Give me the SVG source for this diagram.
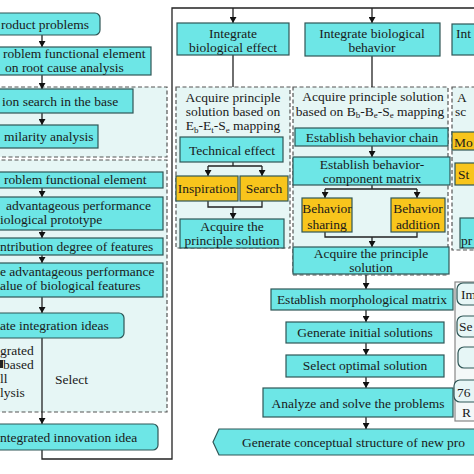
<svg xmlns="http://www.w3.org/2000/svg" width="474" height="474" viewBox="0 0 474 474">
<defs>
<style>
.box{fill:#6DE6E6;stroke:#2F5656;stroke-width:1.2}
.yel{fill:#F8C51C;stroke:#2F5656;stroke-width:1.2}
.dash{fill:#E6F6F5;stroke:#555;stroke-width:1.2;stroke-dasharray:4 2.5}
.pan{fill:#F4F8F8;stroke:#888;stroke-width:1.2}
.rb{fill:#E6F6F6;stroke:#2F5656;stroke-width:1.2}
.t{font-family:"Liberation Serif","Times New Roman",serif;font-size:13.5px;fill:#1a1a1a}
.c{text-anchor:middle}
.ln{stroke:#222;stroke-width:1.3;fill:none}
.s{font-size:9px}
</style>
<marker id="ah" markerWidth="6" markerHeight="7" refX="6" refY="3.5" orient="auto" markerUnits="userSpaceOnUse">
<path d="M0,0 L6,3.5 L0,7 z" fill="#111"/>
</marker>
</defs>
<rect width="474" height="474" fill="#fff"/>

<g id="regions">
<rect class="dash" x="-5" y="87" width="172" height="70"/>
<rect class="dash" x="-5" y="160" width="172" height="252"/>
<rect class="dash" x="176" y="87" width="114" height="161"/>
<rect class="dash" x="293" y="87" width="155" height="188"/>
<rect class="dash" x="452" y="87" width="30" height="163"/>
<rect class="pan" x="455" y="282" width="30" height="139"/>
</g>

<g id="connectors">
<path class="ln" d="M42,35 V47" marker-end="url(#ah)"/>
<path class="ln" d="M42,75 V89" marker-end="url(#ah)"/>
<path class="ln" d="M42,113 V125" marker-end="url(#ah)"/>
<path class="ln" d="M42,188 V197" marker-end="url(#ah)"/>
<path class="ln" d="M42,230 V238" marker-end="url(#ah)"/>
<path class="ln" d="M42,255 V263" marker-end="url(#ah)"/>
<path class="ln" d="M42,297 V313" marker-end="url(#ah)"/>
<path class="ln" d="M42,338 V424" marker-end="url(#ah)"/>
<path class="ln" d="M42,450 V459 H172 V8 H480"/>
<path class="ln" d="M233,8 V23" marker-end="url(#ah)"/>
<path class="ln" d="M372,8 V23" marker-end="url(#ah)"/>
<path class="ln" d="M233,55 V87"/>
<path class="ln" d="M372,56 V87"/>
<path class="ln" d="M233,162 V166 M208,166 H262"/>
<path class="ln" d="M208,166 V176" marker-end="url(#ah)"/>
<path class="ln" d="M262,166 V176" marker-end="url(#ah)"/>
<path class="ln" d="M208,201 V207 H262 V201"/>
<path class="ln" d="M233,207 V219" marker-end="url(#ah)"/>
<path class="ln" d="M372,146 V157" marker-end="url(#ah)"/>
<path class="ln" d="M372,185 V189 M325,189 H417"/>
<path class="ln" d="M325,189 V198" marker-end="url(#ah)"/>
<path class="ln" d="M417,189 V198" marker-end="url(#ah)"/>
<path class="ln" d="M325,232 V237 H417 V232"/>
<path class="ln" d="M372,237 V247" marker-end="url(#ah)"/>
<path class="ln" d="M366,275 V289" marker-end="url(#ah)"/>
<path class="ln" d="M366,310 V322" marker-end="url(#ah)"/>
<path class="ln" d="M366,343 V355" marker-end="url(#ah)"/>
<path class="ln" d="M366,377 V388" marker-end="url(#ah)"/>
<path class="ln" d="M366,417 V429" marker-end="url(#ah)"/>
</g>

<g id="n-product"><rect class="box" x="-10" y="13" width="110" height="22" rx="5"/><text class="t" x="1" y="29">roduct problems</text></g>
<g id="n-element"><rect class="box" x="-10" y="47" width="161" height="28"/><text class="t" x="3" y="58">roblem functional element</text><text class="t" x="5" y="72">on root cause analysis</text></g>
<g id="n-search"><rect class="box" x="-10" y="89" width="143" height="24"/><text class="t" x="2" y="106">ion search in the base</text></g>
<g id="n-similarity"><rect class="box" x="-10" y="125" width="108" height="23"/><text class="t" x="4" y="141">milarity analysis</text></g>
<g id="n-element2"><rect class="box" x="-10" y="172" width="173" height="16"/><text class="t" x="4" y="184">roblem functional element</text></g>
<g id="n-perf"><rect class="box" x="-10" y="197" width="173" height="33"/><text class="t" x="6" y="210">advantageous performance</text><text class="t" x="0" y="224">iological prototype</text></g>
<g id="n-contrib"><rect class="box" x="-10" y="238" width="173" height="17"/><text class="t" x="0" y="251">ntribution degree of features</text></g>
<g id="n-value"><rect class="box" x="-10" y="263" width="173" height="34"/><text class="t" x="0" y="276">e advantageous performance</text><text class="t" x="0" y="290">alue of biological features</text></g>
<g id="n-ideas"><rect class="box" x="-10" y="313" width="134" height="25" rx="5"/><text class="t" x="0" y="330">ate integration ideas</text></g>
<g id="n-select"><text class="t" x="0" y="355">grated</text><text class="t" x="3" y="369">based</text><rect x="0" y="360" width="3" height="8" fill="#222"/><text class="t" x="0" y="383">ll</text><text class="t" x="0" y="397">lysis</text><text class="t" x="55" y="384">Select</text></g>
<g id="n-innovation"><rect class="box" x="-10" y="424" width="168" height="26" rx="5"/><text class="t" x="0" y="442">ntegrated innovation idea</text></g>

<g id="n-effect"><rect class="box" x="177" y="23" width="112" height="32"/><text class="t c" x="233" y="38">Integrate</text><text class="t c" x="233" y="52">biological effect</text></g>
<g id="n-effect-label"><text class="t c" x="233" y="102">Acquire principle</text><text class="t c" x="233" y="116">solution based on</text><text class="t c" x="233" y="130">E<tspan class="s" dy="3">b</tspan><tspan dy="-3">-E</tspan><tspan class="s" dy="3">t</tspan><tspan dy="-3">-S</tspan><tspan class="s" dy="3">e</tspan><tspan dy="-3"> mapping</tspan></text></g>
<g id="n-technical"><rect class="box" x="180" y="137" width="103" height="25"/><text class="t c" x="232" y="155">Technical effect</text></g>
<g id="n-inspiration"><rect class="yel" x="176" y="176" width="62" height="25"/><text class="t c" x="207" y="193">Inspiration</text></g>
<g id="n-searchy"><rect class="yel" x="240" y="176" width="48" height="25"/><text class="t c" x="264" y="193">Search</text></g>
<g id="n-acq1"><rect class="box" x="180" y="219" width="104" height="29"/><text class="t c" x="232" y="231">Acquire the</text><text class="t c" x="232" y="245">principle solution</text></g>

<g id="n-behavior"><rect class="box" x="305" y="23" width="135" height="33"/><text class="t c" x="372" y="38">Integrate biological</text><text class="t c" x="372" y="52">behavior</text></g>
<g id="n-behavior-label"><text class="t c" x="373" y="101">Acquire principle solution</text><text class="t c" x="370" y="116">based on B<tspan class="s" dy="2">b</tspan><tspan dy="-2">-B</tspan><tspan class="s" dy="2">e</tspan><tspan dy="-2">-S</tspan><tspan class="s" dy="2">e</tspan><tspan dy="-2"> mapping</tspan></text></g>
<g id="n-chain"><rect class="box" x="295" y="128" width="153" height="18"/><text class="t c" x="372" y="142">Establish behavior chain</text></g>
<g id="n-matrix"><rect class="box" x="293" y="157" width="157" height="28"/><text class="t c" x="372" y="169">Establish behavior-</text><text class="t c" x="372" y="183">component matrix</text></g>
<g id="n-sharing"><rect class="yel" x="302" y="198" width="50" height="34"/><text class="t c" x="327" y="213">Behavior</text><text class="t c" x="327" y="229">sharing</text></g>
<g id="n-addition"><rect class="yel" x="391" y="198" width="54" height="34"/><text class="t c" x="418" y="213">Behavior</text><text class="t c" x="418" y="229">addition</text></g>
<g id="n-acq2"><rect class="box" x="293" y="247" width="156" height="27"/><text class="t c" x="371" y="258">Acquire the principle</text><text class="t c" x="371" y="272">solution</text></g>

<g id="n-right"><rect class="box" x="452" y="24" width="30" height="31"/><text class="t" x="456" y="38">Int</text><text class="t" x="457" y="102">A</text><text class="t" x="455" y="116">sc</text><rect class="yel" x="452" y="132" width="30" height="18"/><text class="t" x="454" y="147">Mo</text><rect class="yel" x="455" y="163" width="30" height="22"/><text class="t" x="458" y="179">St</text><rect class="box" x="460" y="218" width="30" height="30"/><text class="t" x="461" y="245">pr</text></g>

<g id="n-morph"><rect class="box" x="271" y="289" width="182" height="21"/><text class="t c" x="362" y="304">Establish morphological matrix</text></g>
<g id="n-initial"><rect class="box" x="286" y="322" width="158" height="21"/><text class="t c" x="365" y="337">Generate initial solutions</text></g>
<g id="n-optimal"><rect class="box" x="286" y="355" width="158" height="22"/><text class="t c" x="365" y="370">Select optimal solution</text></g>
<g id="n-analyze"><rect class="box" x="263" y="388" width="190" height="29"/><text class="t c" x="358" y="408">Analyze and solve the problems</text></g>
<g id="n-right2"><rect class="rb" x="457" y="283" width="30" height="22" rx="6"/><text class="t" x="461" y="299">Im</text><rect class="rb" x="457" y="316" width="30" height="21" rx="6"/><text class="t" x="459" y="331">Se</text><rect class="rb" x="458" y="347" width="30" height="21" rx="6"/><rect class="rb" x="454" y="380" width="30" height="22" rx="6"/><text class="t" x="457" y="397">76</text><text class="t" x="462" y="417">R</text></g>
<g id="n-concept"><path class="box" d="M213,442 L219,429 H482 V455 H219 Z"/><text class="t" x="242" y="447">Generate conceptual structure of new pro</text></g>
</svg>
